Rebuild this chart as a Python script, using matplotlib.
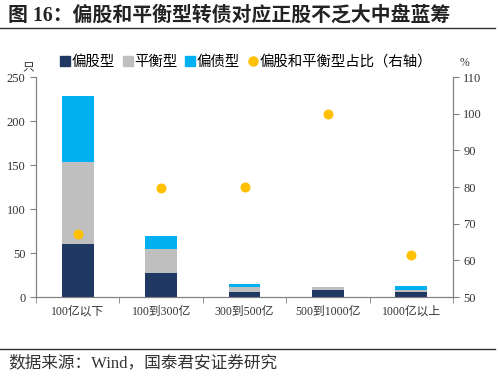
import matplotlib.pyplot as plt
from matplotlib.lines import Line2D
import numpy as np

# --- data ---
categories = ['100亿以下', '100到300亿', '300到500亿', '500到1000亿', '1000亿以上']
equity_like = [60, 28, 6, 8, 6]      # 偏股型
balanced = [94, 27, 6, 4, 2]         # 平衡型
debt_like = [75, 14, 3, 0, 5]        # 偏债型
share_pct = [67.2, 79.7, 80.0, 100.0, 61.5]  # 偏股和平衡型占比（右轴）

C_NAVY = '#203864'
C_GRAY = '#BFBFBF'
C_BLUE = '#00B0F0'
C_GOLD = '#FFC000'
AX_COL = '#808080'
CJK = ['Noto Sans CJK SC', 'DejaVu Sans']

plt.rcParams['font.family'] = ['Liberation Serif', 'Noto Sans CJK SC', 'DejaVu Sans']

fig = plt.figure(figsize=(5, 3.8), dpi=100)
ax = fig.add_axes([0.072, 0.218, 0.834, 0.579])
ax2 = ax.twinx()

x = np.arange(len(categories))
w = 0.38
b1 = np.array(equity_like)
b2 = np.array(balanced)
b3 = np.array(debt_like)
ax.bar(x, b1, w, color=C_NAVY, zorder=2)
ax.bar(x, b2, w, bottom=b1, color=C_GRAY, zorder=2)
ax.bar(x, b3, w, bottom=b1 + b2, color=C_BLUE, zorder=2)
ax2.scatter(x, share_pct, s=38, color=C_GOLD, zorder=3)

ax.set_xlim(-0.5, len(categories) - 0.5)
ax.set_ylim(0, 250)
ax.set_yticks(range(0, 251, 50))
ax2.set_ylim(50, 110)
ax2.set_yticks(range(50, 111, 10))

ax.set_xticks(x)
ax.set_xticklabels(categories, fontsize=8.5, color='#333333')
ax.set_xticks(np.arange(-0.5, len(categories), 1), minor=True)
ax.tick_params(axis='x', which='major', length=0, pad=6)
ax.tick_params(axis='x', which='minor', length=4, color=AX_COL, direction='out')
for a in (ax, ax2):
    for s in a.spines.values():
        s.set_color(AX_COL)
    a.spines['top'].set_visible(False)
    a.tick_params(axis='y', labelsize=9, colors=AX_COL, labelcolor='#333333', length=4)

# unit labels
fig.text(0.056, 0.825, '只', fontsize=8.5, family=CJK, ha='center', va='center', color='#333333')
fig.text(0.928, 0.835, '%', fontsize=8.5, ha='center', va='center', color='#333333')

# legend
handles = [
    Line2D([], [], marker='s', linestyle='', color=C_NAVY, markersize=6.5),
    Line2D([], [], marker='s', linestyle='', color=C_GRAY, markersize=6.5),
    Line2D([], [], marker='s', linestyle='', color=C_BLUE, markersize=6.5),
    Line2D([], [], marker='o', linestyle='', color=C_GOLD, markersize=6.5),
]
labels = ['偏股型', '平衡型', '偏债型', '偏股和平衡型占比（右轴）']
fig.legend(handles, labels, loc='center', bbox_to_anchor=(0.493, 0.837), ncol=4,
           frameon=False, handlelength=0.6, handletextpad=0.15,
           columnspacing=0.6, borderaxespad=0, prop={'family': CJK, 'size': 10.4})

# title and source
fig.text(0.016, 0.958, '图 16：偏股和平衡型转债对应正股不乏大中盘蓝筹', fontsize=14.3,
         fontweight='bold', ha='left', va='center', color='#222222')
fig.add_artist(Line2D([0.0, 0.99], [0.926, 0.926], color='#333333', lw=1.0))
fig.add_artist(Line2D([0.0, 0.99], [0.082, 0.082], color='#333333', lw=1.0))
fig.text(0.016, 0.045, '数据来源：Wind，国泰君安证券研究', fontsize=12,
         ha='left', va='center', color='#333333')

fig.savefig('out.png', dpi=100)
